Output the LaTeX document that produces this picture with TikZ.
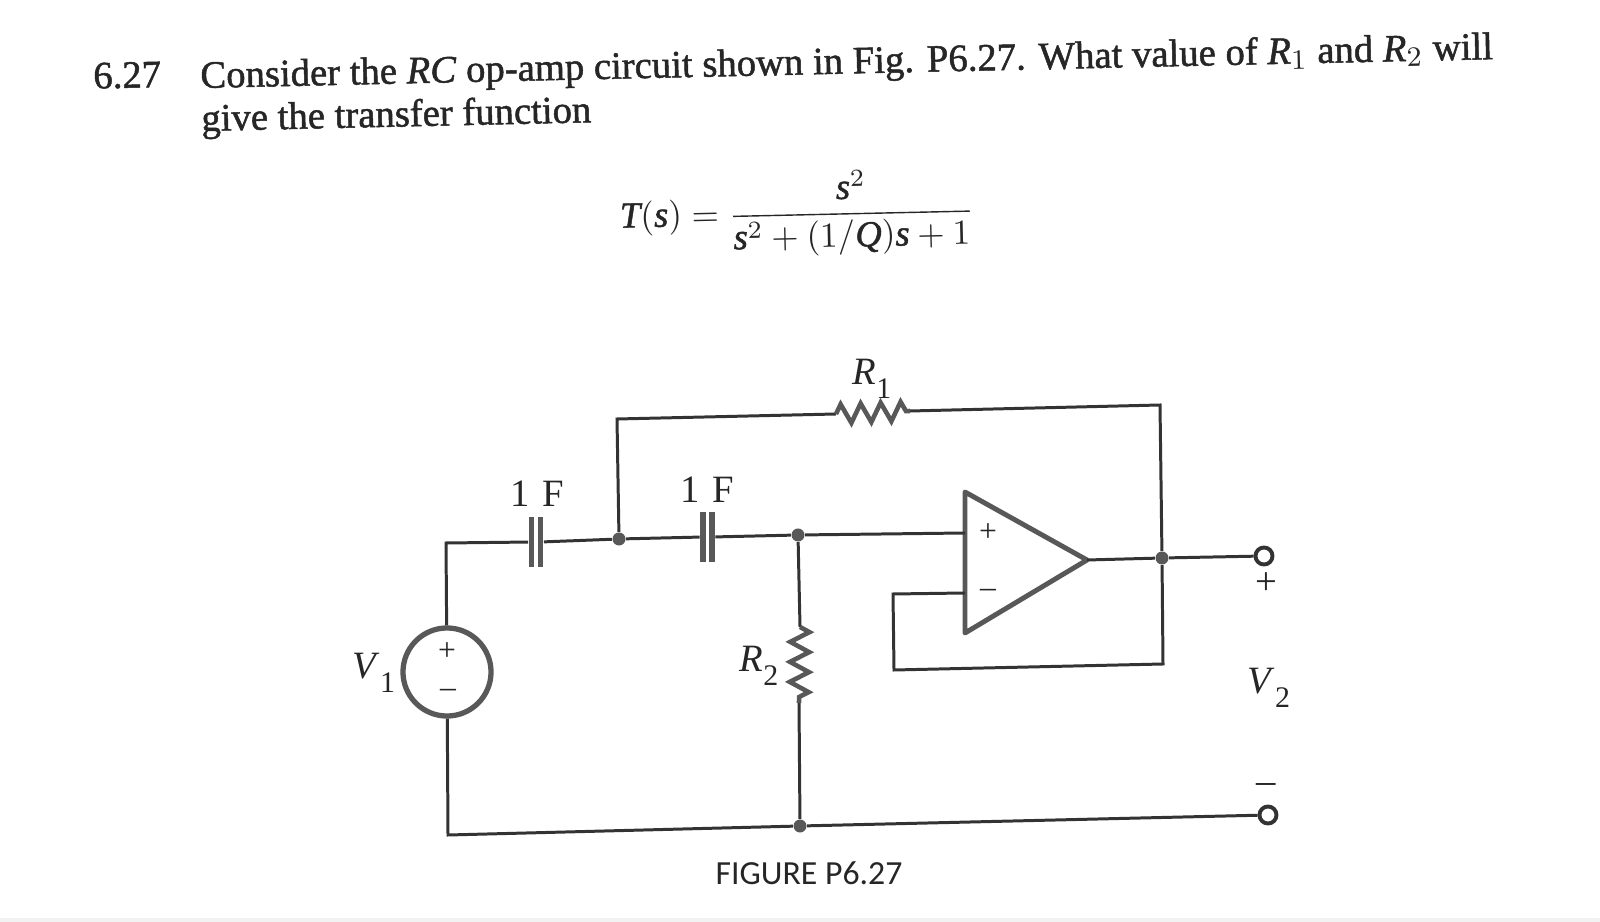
\documentclass[tikz,border=0pt]{standalone}
\usepackage{amsmath}
\usepackage{fontspec}
\setmainfont{Liberation Serif}
\setsansfont{Carlito}
\newfontfamily\scanfont[FakeBold=1.3]{Liberation Serif}
\usetikzlibrary{decorations.pathmorphing}

\definecolor{ink}{HTML}{333333}
\definecolor{inkgray}{HTML}{585858}
\newcommand{\lblsub}[1]{\raisebox{-0.35em}{\fontsize{8.5}{10}\selectfont #1}}

\begin{document}
\begin{tikzpicture}[
    x=0.01cm, y=-0.01cm,
    wire/.style={draw=ink, line width=0.85pt, line join=miter},
    resistor/.style={draw=inkgray, line width=1.3pt, decorate, decoration={zigzag, segment length=0.2cm, amplitude=0.095cm}},
    amp/.style={draw=inkgray, line width=1.4pt, line join=round},
    junction/.style={circle, fill=inkgray, inner sep=0pt, minimum size=0.13cm},
    terminal/.style={circle, draw=ink, fill=white, line width=1.1pt, inner sep=0pt, minimum size=0.17cm},
    source/.style={circle, draw=inkgray, fill=white, line width=1.5pt, inner sep=0pt, minimum size=0.88cm},
    plate/.style={rectangle, fill=inkgray, inner sep=0pt, minimum width=0.055cm, minimum height=0.49cm},
    lbl/.style={inner sep=0pt, text=black!85, font=\fontsize{11}{14}\selectfont},
    sign/.style={inner sep=0pt, text=black!85, font=\fontsize{9}{12}\selectfont},
    prose/.style={inner sep=0pt, anchor=base west, rotate=1.28, text=black!85, font=\scanfont\fontsize{11}{14}\selectfont}
]
    \useasboundingbox (0,0) rectangle (1600,922);
    \fill[black!5] (0,918) rectangle (1600,922);

    % Problem text
    \node[prose, anchor=base east] (num) at (162,87) {6.27};
    \node[prose] (line1) at (200,88) {Consider the \textit{RC} op-amp circuit shown in Fig. P6.27. What value of \textit{R}$_1$ and \textit{R}$_2$ will};
    \node[prose] (line2) at (201,131) {give the transfer function};
    \node[inner sep=0pt, rotate=1.28, text=black!85, font=\scanfont\fontsize{10.4}{14}\selectfont] (eq) at (797,214)
        {$\textit{T}(\textit{s})=\dfrac{\textit{s}^2}{\textit{s}^2+(1/\textit{Q})\textit{s}+1}$};

    % Components
    \node[source] (vone) at (447,672) {};
    \node[plate] (cal) at (531.5,542) {};
    \node[plate] (car) at (540.5,542) {};
    \node[plate] (cbl) at (703,537) {};
    \node[plate] (cbr) at (712,537) {};
    \node[junction] (na) at (619,539) {};
    \node[junction] (nb) at (798,535) {};
    \node[junction] (nc) at (800,826) {};
    \node[junction] (nd) at (1162,558) {};
    \node[terminal] (vplus) at (1264,556) {};
    \node[terminal] (vminus) at (1268,815) {};

    % Op amp
    \coordinate (amptop) at (965,492);
    \coordinate (ampbot) at (965,633);
    \coordinate (amptip) at (1087,560);
    \coordinate (ampp) at (965,533);
    \coordinate (ampm) at (965,593);
    \draw[amp] (amptop) -- (amptip) -- (ampbot) -- cycle;

    % Wire corners
    \coordinate (cnrv) at (446,543);
    \coordinate (cnrg) at (448,835);
    \coordinate (cnrrl) at (617,419);
    \coordinate (cnrrr) at (1160,405);
    \coordinate (cnrfl) at (893,594);
    \coordinate (cnrfb) at (894,670);
    \coordinate (cnrfr) at (1163,664);

    % Resistor ends
    \coordinate (raa) at (836,414);
    \coordinate (rab) at (910,411);
    \coordinate (rba) at (800,627);
    \coordinate (rbb) at (799,703);

    % Wires
    \draw[wire] (vone) -- (cnrv) -- (cal);
    \draw[wire] (car) -- (na) -- (cbl);
    \draw[wire] (cbr) -- (nb) -- (ampp);
    \draw[wire] (na) -- (cnrrl) -- (raa);
    \draw[wire] (rab) -- (cnrrr) -- (nd);
    \draw[wire] (nb) -- (rba);
    \draw[wire] (rbb) -- (nc);
    \draw[wire] (vone) -- (cnrg) -- (nc) -- (vminus);
    \draw[wire] (amptip) -- (nd) -- (vplus);
    \draw[wire] (nd) -- (cnrfr) -- (cnrfb) -- (cnrfl) -- (ampm);
    \draw[resistor] (raa) -- (rab);
    \draw[resistor] (rba) -- (rbb);

    % Labels
    \node[sign] (vonep) at (447,652) {+};
    \node[sign] (vonem) at (448,693) {--};
    \node[sign] (ampplus) at (988,533) {+};
    \node[sign] (ampminus) at (988,593) {--};
    \node[lbl] (lv1) at (374,673) {\textit{V}\lblsub{1}};
    \node[lbl] (lca) at (537,494) {1\,\,F};
    \node[lbl] (lcb) at (707,490) {1\,\,F};
    \node[lbl] (lr1) at (872,379) {\textit{R}\lblsub{1}};
    \node[lbl] (lr2) at (759,666) {\textit{R}\lblsub{2}};
    \node[lbl] (lv2) at (1269,688) {\textit{V}\lblsub{2}};
    \node[lbl] (lplus) at (1266,584) {+};
    \node[lbl] (lminus) at (1266,789) {--};
    \node[inner sep=0pt, text=black!85, font=\sffamily\fontsize{9.6}{12}\selectfont] (cap) at (809,873) {FIGURE P6.27};
\end{tikzpicture}
\end{document}
